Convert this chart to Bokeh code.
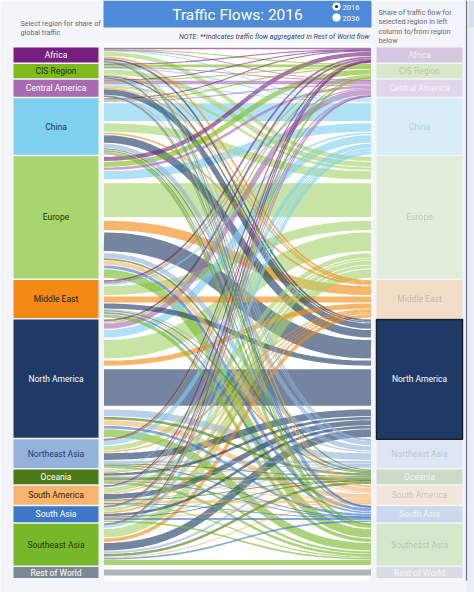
import numpy as np
from bokeh.plotting import figure
from bokeh.models import Range1d, ColumnDataSource
from bokeh.embed import file_html
from bokeh.resources import INLINE
from bokeh.core.properties import value

# ---------------- data ----------------
regions = ["Africa", "CIS Region", "Central America", "China", "Europe", "Middle East",
           "North America", "Northeast Asia", "Oceania", "South America", "South Asia",
           "Southeast Asia", "Rest of World"]
region_colors = ["#761f7e", "#7fba1c", "#a86bb2", "#7fd0f0", "#a7d46c", "#f08a12",
                 "#1f3a66", "#94b3dc", "#4b7b16", "#f7b46e", "#3e77c6", "#77b82a", "#7d8893"]
label_colors = ["white", "#1d3300", "white", "#163a5a", "#1e3300", "#1a1a1a",
                "white", "#1f3a66", "white", "#3a2000", "white", "#1d3b00", "white"]
# traffic flow (source row -> destination column), same order as regions
flow_africa        = [2, .5, .5, 1, 5, 2, 2, .5, 0, .5, .5, .5, 0]
flow_cis           = [.5, 3, .2, 1.5, 6, .8, 1.5, .5, 0, 0, .2, .3, 0]
flow_central_am    = [.5, .2, 4, 1, 3, .3, 6.5, .5, 0, .5, .2, .3, 0]
flow_china         = [1, 1.5, 1, 21, 10, 2, 9, 5, 1, 1, 1, 3.5, 0]
flow_europe        = [5, 6, 3, 10, 40, 11, 22, 5.5, 2, 5, 3.5, 10, 0]
flow_middle_east   = [2, .8, .3, 2, 11, 7, 6, 1.5, .5, 1, 2, 4, 0]
flow_north_america = [2, 1.5, 6.5, 9, 22, 6, 43, 8, 3, 6, 3, 9, 0]
flow_northeast_as  = [.5, .5, .5, 5, 5.5, 1.5, 8, 3, 1, .5, .5, 2.5, 0]
flow_oceania       = [0, 0, 0, 1, 2, .5, 3, 1, 3.5, .3, .5, 3, 0]
flow_south_america = [.5, 0, .5, 1, 5, 1, 6, .5, .3, 3, .3, 1, 0]
flow_south_asia    = [.5, .2, .2, 1, 3.5, 2, 3, .5, .5, .3, 2.5, 2, 0]
flow_southeast_as  = [.5, .3, .3, 3.5, 10, 4, 9, 2.5, 3, 1, 2, 6, 0]
flow_rest_of_world = [0, 0, 0, 0, 0, 0, 0, 0, 0, 0, 0, 0, 11]
selected = "North America"
title = "Traffic Flows: 2016"
years = ["2016", "2036"]

M = np.array([flow_africa, flow_cis, flow_central_am, flow_china, flow_europe,
              flow_middle_east, flow_north_america, flow_northeast_as, flow_oceania,
              flow_south_america, flow_south_asia, flow_southeast_as, flow_rest_of_world])
n = len(regions)

# ---------------- layout ----------------
W, H = 474, 592
BG = "#f3f5fa"
top, bot, gap = 47.0, 577.5, 1.5
row_tot = M.sum(axis=1)
scale = (bot - top - gap * (n - 1)) / row_tot.sum()
btop = []
y = top
for tt in row_tot:
    btop.append(y)
    y += tt * scale + gap
btop = np.array(btop)
bbot = btop + row_tot * scale

p = figure(width=W, height=H, x_range=Range1d(0, W), y_range=Range1d(H, 0),
           output_backend="svg", toolbar_location=None, min_border=0,
           x_axis_type=None, y_axis_type=None)
p.grid.visible = False
p.outline_line_color = None
p.background_fill_color = BG
p.border_fill_color = BG

# scroll strip on right
p.quad(left=[466.5], right=[474], top=[0], bottom=[592], fill_color="#e8eef7", line_color=None)
p.quad(left=[468], right=[474], top=[0], bottom=[27], fill_color="#d6e1f0", line_color=None)
p.segment(x0=[466], y0=[0], x1=[466], y1=[580], line_color="#6f7680", line_width=1.2)

# flow area
X0, X1 = 103.5, 370.5
p.quad(left=[X0], right=[X1], top=[43], bottom=[580], fill_color="white", line_color=None)

# title box
p.quad(left=[103], right=[371], top=[0], bottom=[27], fill_color="#4d8ad8", line_color=None)
p.text(x=[237], y=[14], text=[title], text_align="center", text_baseline="middle",
       text_color="white", text_font=value("Roboto"), text_font_size="15.5px")
p.scatter(x=[336, 336], y=[6, 17], size=7.5, marker="circle", fill_color="white", line_color="white")
p.scatter(x=[336], y=[6], size=3.2, marker="circle", fill_color="#2a2a2a", line_color=None)
p.text(x=[342, 342], y=[6.5, 17.5], text=years, text_align="left", text_baseline="middle",
       text_color="white", text_font=value("Roboto"), text_font_size="7.5px")
p.text(x=[369], y=[36], text=["NOTE: **Indicates traffic flow aggregated in Rest of World flow"],
       text_align="right", text_baseline="middle", text_color="#34496b",
       text_font=value("Roboto"), text_font_style="italic", text_font_size="7.1px")

# headers
p.text(x=[20, 20], y=[23, 32], text=["Select region for share of", "global traffic"],
       text_align="left", text_baseline="middle", text_color="#666a70",
       text_font=value("Roboto"), text_font_size="7.2px")
p.text(x=[378] * 4, y=[11.5, 21, 30.5, 40],
       text=["Share of traffic flow for", "selected region in left", "column to/from region", "below"],
       text_align="left", text_baseline="middle", text_color="#666a70",
       text_font=value("Roboto"), text_font_size="7.2px")

# ribbons
xm = (X0 + X1) / 2
t = np.linspace(0, 1, 40)
bx = (1 - t) ** 3 * X0 + 3 * (1 - t) ** 2 * t * xm + 3 * (1 - t) * t ** 2 * xm + t ** 3 * X1
left_off = btop.copy()
right_off = btop.copy()
lpos = np.zeros((n, n))
rpos = np.zeros((n, n))
for i in range(n):
    for j in range(n):
        lpos[i, j] = left_off[i] + M[i, j] * scale / 2
        left_off[i] += M[i, j] * scale
for j in range(n):
    for i in range(n):
        rpos[i, j] = right_off[j] + M[i, j] * scale / 2
        right_off[j] += M[i, j] * scale

links = []
for i in range(n):
    for j in range(n):
        if M[i, j] > 0:
            ya, yb = lpos[i, j], rpos[i, j]
            by = (1 - t) ** 3 * ya + 3 * (1 - t) ** 2 * t * ya + 3 * (1 - t) * t ** 2 * yb + t ** 3 * yb
            w = M[i, j] * scale * (0.55 if regions[i] == "Rest of World" else 0.85)
            links.append((M[i, j], list(bx), list(by), region_colors[j], max(w, 1.1)))
links.sort(key=lambda r: -r[0])
src = ColumnDataSource(dict(xs=[l[1] for l in links], ys=[l[2] for l in links],
                            color=[l[3] for l in links], w=[l[4] for l in links]))
p.multi_line(xs="xs", ys="ys", line_color="color", line_width="w", line_alpha=0.62,
             line_cap="butt", source=src)

# left blocks
cy = (btop + bbot) / 2
p.quad(left=13, right=98, top=btop, bottom=bbot, fill_color=region_colors, line_color=None)
p.text(x=[55.5] * n, y=list(cy), text=regions, text_align="center", text_baseline="middle",
       text_color=label_colors, text_font=value("Roboto"), text_font_size="8.5px")

# right blocks
sel = regions.index(selected)
others = [k for k in range(n) if k != sel]
p.quad(left=376, right=462, top=btop[others], bottom=bbot[others],
       fill_color=[region_colors[k] for k in others], fill_alpha=0.22, line_color=None)
r_txt_col = ["white" if label_colors[k] == "white" else label_colors[k] for k in others]
r_txt_alpha = [0.75 if label_colors[k] == "white" else 0.22 for k in others]
p.text(x=[419] * len(others), y=list(cy[others]), text=[regions[k] for k in others],
       text_align="center", text_baseline="middle", text_color=r_txt_col, text_alpha=r_txt_alpha,
       text_font=value("Roboto"), text_font_size="8.5px")
p.quad(left=[376], right=[462], top=[btop[sel]], bottom=[bbot[sel] + 1.5],
       fill_color=region_colors[sel], line_color="#1b1f26", line_width=1.5)
p.text(x=[419], y=[cy[sel]], text=[selected], text_align="center", text_baseline="middle",
       text_color=label_colors[sel], text_font=value("Roboto"), text_font_size="8.5px")

open("out.html", "w").write(file_html(p, INLINE))
